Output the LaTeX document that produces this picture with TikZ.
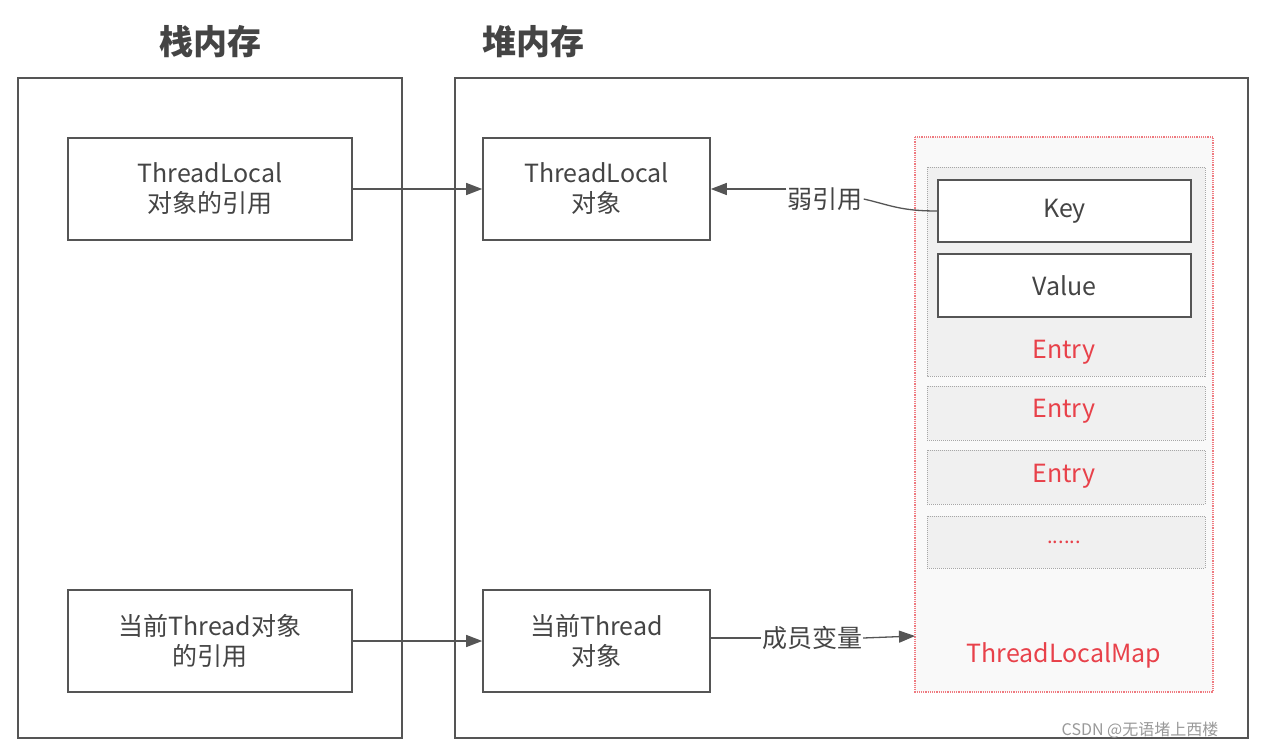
\documentclass[tikz,border=0pt]{standalone}
\usepackage{fontspec}
\setmainfont{Noto Sans CJK SC}
\usetikzlibrary{arrows.meta}
\definecolor{ln}{HTML}{555555}
\definecolor{tx}{HTML}{444444}
\definecolor{rd}{HTML}{E8414A}
\begin{document}
\begin{tikzpicture}[x=1pt,y=-1pt,
  panel/.style={draw=ln,line width=1.6pt},
  obj/.style={draw=ln,line width=1.6pt,fill=white,text=tx,align=center,font=\fontsize{25}{30}\selectfont},
  entrybox/.style={draw=gray!70,densely dotted,line width=1pt,fill=gray!12},
  lbl/.style={text=tx,font=\fontsize{25}{28}\selectfont,fill=white,inner sep=1pt},
  red/.style={text=rd,font=\fontsize{25}{28}\selectfont},
  arr/.style={draw=ln,line width=1.3pt,-{Triangle[length=16pt,width=12pt]}}]
\useasboundingbox (0,0) rectangle (1265,749);
\fill[white] (0,0) rectangle (1265,749);
\node[font=\bfseries\fontsize{34}{38}\selectfont,text=tx] (t1) at (210,42) {栈内存};
\node[font=\bfseries\fontsize{34}{38}\selectfont,text=tx] (t2) at (533,42) {堆内存};
\draw[panel] (18,78) rectangle (402,738);
\draw[panel] (455,78) rectangle (1248,738);
\node[obj,minimum width=284pt,minimum height=102pt] (A) at (210,189) {ThreadLocal\\对象的引用};
\node[obj,minimum width=227pt,minimum height=102pt] (B) at (596.5,189) {ThreadLocal\\对象};
\node[obj,minimum width=284pt,minimum height=102pt] (C) at (210,641) {当前Thread对象\\的引用};
\node[obj,minimum width=227pt,minimum height=102pt] (D) at (596.5,641) {当前Thread\\对象};
\draw[draw=rd!70,densely dotted,line width=1.2pt,fill=gray!5] (915,137) rectangle (1213,692);
\node[red] (map) at (1064,655) {ThreadLocalMap};
\coordinate (mapw) at (915,636);
\draw[entrybox] (927,167) rectangle (1205,376);
\draw[entrybox] (927,386) rectangle (1205,440);
\draw[entrybox] (927,450) rectangle (1205,504);
\draw[entrybox] (927,516) rectangle (1205,568);
\node[obj,minimum width=253pt,minimum height=62pt] (key) at (1064.5,211) {Key};
\node[obj,minimum width=253pt,minimum height=63pt] (val) at (1064.5,285.5) {Value};
\node[red] (e1) at (1064,352) {Entry};
\node[red] (e2) at (1064,411) {Entry};
\node[red] (e3) at (1064,476) {Entry};
\node[text=rd,font=\fontsize{20}{22}\selectfont] (e4) at (1064,542) {......};
\draw[arr] (A.east) -- (A.east -| B.west);
\node[lbl] (wr) at (825,199) {弱引用};
\draw[draw=ln,line width=1.3pt] (key.west) .. controls (900,211) and (890,205) .. (wr.east);
\draw[arr] (wr.west |- B.east) -- (B.east);
\draw[arr] (C.east) -- (D.west);
\node[lbl] (mem) at (812,638) {成员变量};
\draw[draw=ln,line width=1.3pt] (D.east |- mem) -- (mem.west);
\draw[arr] (mem.east) -- (mapw);
\node[text=gray!80,font=\fontsize{16}{18}\selectfont] (wm) at (1140,730) {CSDN @无语堵上西楼};
\end{tikzpicture}
\end{document}
